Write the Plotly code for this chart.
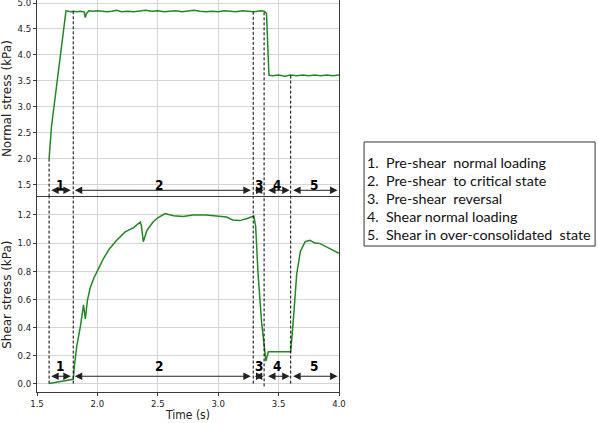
import plotly.graph_objects as go
from plotly.subplots import make_subplots

# Normal stress (top panel)
t_normal = [1.60, 1.62, 1.74, 1.76, 1.78, 1.80, 1.83, 1.86, 1.89, 1.90, 1.91, 1.93, 1.96,
            2.00, 2.04, 2.08, 2.12, 2.16, 2.20, 2.25, 2.30, 2.35, 2.40, 2.45, 2.50, 2.55,
            2.60, 2.65, 2.70, 2.75, 2.80, 2.85, 2.90, 2.95, 3.00, 3.05, 3.10, 3.15, 3.20,
            3.25, 3.30, 3.35, 3.38, 3.40, 3.42, 3.45, 3.50, 3.55, 3.60, 3.65, 3.70, 3.75,
            3.80, 3.85, 3.90, 3.95, 4.00]
normal_stress = [2.00, 2.62, 4.85, 4.84, 4.83, 4.84, 4.83, 4.84, 4.83, 4.72, 4.80, 4.85, 4.84,
                 4.85, 4.84, 4.83, 4.84, 4.86, 4.83, 4.84, 4.83, 4.85, 4.86, 4.84, 4.85, 4.83,
                 4.84, 4.85, 4.83, 4.84, 4.86, 4.84, 4.83, 4.84, 4.83, 4.85, 4.84, 4.83, 4.85,
                 4.84, 4.83, 4.85, 4.84, 4.80, 3.61, 3.60, 3.61, 3.59, 3.61, 3.60, 3.61, 3.60,
                 3.61, 3.60, 3.61, 3.60, 3.61]

# Shear stress (bottom panel)
t_shear = [1.60, 1.69, 1.75, 1.79, 1.80, 1.81, 1.83, 1.86, 1.885, 1.90, 1.917, 1.94, 1.97,
           2.01, 2.05, 2.10, 2.16, 2.23, 2.30, 2.355, 2.365, 2.38, 2.41, 2.46, 2.50, 2.56,
           2.63, 2.71, 2.79, 2.90, 2.99, 3.07, 3.12, 3.18, 3.24, 3.295, 3.31, 3.33, 3.36,
           3.395, 3.415, 3.50, 3.60, 3.62, 3.65, 3.68, 3.72, 3.76, 3.80, 3.84, 3.88, 3.93,
           3.97, 4.00]
shear_stress = [0.00, 0.012, 0.02, 0.024, 0.03, 0.13, 0.27, 0.41, 0.56, 0.46, 0.59, 0.68, 0.75,
                0.82, 0.89, 0.96, 1.02, 1.08, 1.11, 1.15, 1.12, 1.01, 1.09, 1.15, 1.18, 1.21,
                1.195, 1.19, 1.20, 1.20, 1.19, 1.185, 1.165, 1.16, 1.175, 1.193, 1.12, 0.78, 0.43,
                0.16, 0.226, 0.226, 0.226, 0.43, 0.78, 0.94, 1.01, 1.02, 1.00, 0.998, 0.98, 0.955,
                0.94, 0.927]

# Stage boundaries and labels
boundaries = [1.60, 1.80, 3.29, 3.38, 3.60]
boundary_top_normal = [2.00, 4.84, 4.83, 4.82, 3.60]
boundary_bottom_shear = [0.0, 0.0, 0.0, -0.02, 0.0]
stage_labels = ["1", "2", "3", "4", "5"]
stage_label_x = [1.69, 2.51, 3.34, 3.49, 3.79]
stage_arrows = [(1.605, 1.78), (1.80, 3.27), (3.29, 3.375), (3.40, 3.592), (3.608, 3.988)]

legend_lines = ["1.  Pre-shear  normal loading",
                "2.  Pre-shear  to critical state",
                "3.  Pre-shear  reversal",
                "4.  Shear normal loading",
                "5.  Shear in over-consolidated  state"]

TOP_RANGE = [1.255, 5.058]
BOT_RANGE = [-0.06, 1.326]
X_RANGE = [1.5, 4.0]
SPLIT = 0.4967
GREEN = "#1f8a1f"
SPINE = "#3a3a3a"
GRID = "#d4d4d4"
COND = "DejaVu Sans Condensed, DejaVu Sans"
TICKFONT = dict(family=COND, size=9.5, color="#222")
YTITLEFONT = dict(family="DejaVu Sans", size=12, color="#222")
XTITLEFONT = dict(family=COND, size=12, color="#222")

fig = make_subplots(rows=2, cols=1, vertical_spacing=0)
fig.add_trace(go.Scatter(x=t_normal, y=normal_stress, mode="lines",
                         line=dict(color=GREEN, width=1.5), showlegend=False), row=1, col=1)
fig.add_trace(go.Scatter(x=t_shear, y=shear_stress, mode="lines",
                         line=dict(color=GREEN, width=1.5), showlegend=False), row=2, col=1)

# dashed stage boundaries
for b, ytop, ybot in zip(boundaries, boundary_top_normal, boundary_bottom_shear):
    fig.add_shape(type="line", xref="x", yref="y", x0=b, x1=b, y0=ytop, y1=TOP_RANGE[0] - 0.1,
                  line=dict(color="black", width=1, dash="3px,2px"))
    fig.add_shape(type="line", xref="x2", yref="y2", x0=b, x1=b, y0=ybot, y1=BOT_RANGE[1] + 0.1,
                  line=dict(color="black", width=1, dash="3px,2px"))

# stage arrows and numbers in both panels
for (xa, xb), lx, lab in zip(stage_arrows, stage_label_x, stage_labels):
    for xr, yr, ya, yl in (("x", "y", 1.39, 1.50), ("x2", "y2", 0.052, 0.125)):
        fig.add_annotation(xref=xr, yref=yr, axref=xr, ayref=yr, x=xb, y=ya, ax=xa, ay=ya,
                           text="", showarrow=True, arrowhead=2, arrowside="end+start",
                           arrowsize=1.5, arrowwidth=1, arrowcolor="#222")
        fig.add_annotation(xref=xr, yref=yr, x=lx, y=yl, text="<b>%s</b>" % lab, showarrow=False,
                           font=dict(family=COND, size=13.5, color="black"))

# stage description box
fig.add_shape(type="rect", xref="paper", yref="paper", x0=1.083, x1=1.848, y0=0.3724, y1=0.6378,
              line=dict(color="#333", width=1), fillcolor="white")
for i, txt in enumerate(legend_lines):
    fig.add_annotation(xref="paper", yref="paper", x=1.085, y=0.585 - i * 0.0457, text=txt,
                       showarrow=False, xanchor="left", yanchor="middle",
                       font=dict(family="Lato, Liberation Sans", size=14.3, color="#111"))

axis_common = dict(showgrid=True, gridcolor=GRID, gridwidth=1, zeroline=False, automargin=False,
                   tickfont=TICKFONT, ticks="outside", ticklen=3, tickcolor=SPINE,
                   ticklabeloverflow="allow")
fig.update_layout(
    width=598, height=423,
    margin=dict(l=37, r=259, t=0, b=31),
    plot_bgcolor="white", paper_bgcolor="white",
    xaxis=dict(axis_common, domain=[0, 1], range=X_RANGE, dtick=0.5, showticklabels=False,
               ticks="", anchor="y"),
    yaxis=dict(axis_common, domain=[SPLIT, 1], range=TOP_RANGE, tick0=1.5, dtick=0.5,
               tickformat=".1f", showline=True, mirror=True, linecolor=SPINE, linewidth=1,
               title=dict(text="Normal stress (kPa)", font=YTITLEFONT, standoff=6)),
    xaxis2=dict(axis_common, domain=[0, 1], range=X_RANGE, dtick=0.5, tickformat=".1f",
                showline=True, mirror=True, linecolor=SPINE, linewidth=1, anchor="y2",
                title=dict(text="Time (s)", font=XTITLEFONT, standoff=2)),
    yaxis2=dict(axis_common, domain=[0, SPLIT], range=BOT_RANGE, tick0=0, dtick=0.2,
                tickformat=".1f", showline=True, mirror=True, linecolor=SPINE, linewidth=1,
                title=dict(text="Shear stress (kPa)", font=YTITLEFONT, standoff=6)),
)

# page body margin would shift the fixed-size figure
fig.write_html("out.html", config={"displayModeBar": False},
               post_script="document.body.style.margin='0px';")
